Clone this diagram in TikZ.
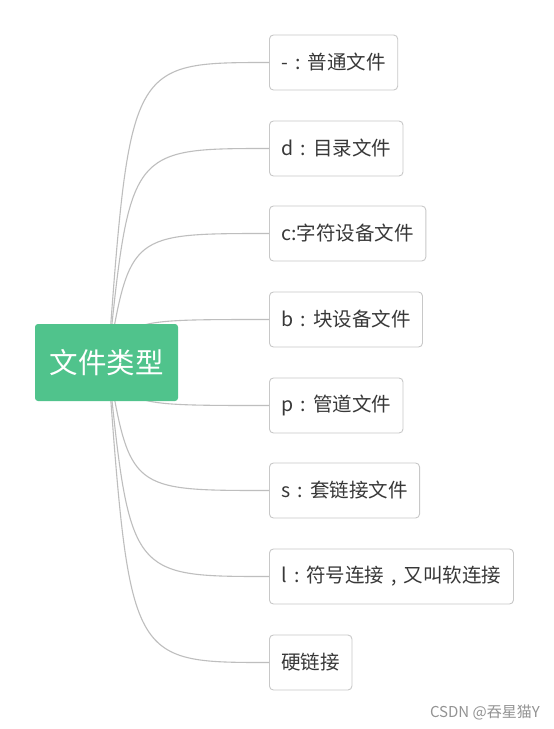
\documentclass[tikz,border=0pt]{standalone}
\usepackage{fontspec}
\setmainfont{Noto Sans CJK SC}
\usetikzlibrary{positioning}
\definecolor{rootgreen}{HTML}{50C38C}
\definecolor{leafline}{HTML}{C8C8C8}
\definecolor{branchgray}{HTML}{BEBEBE}
\definecolor{leaftext}{HTML}{383838}
\newcommand{\fcolon}{\makebox[1em]{:}}
\newcommand{\fcomma}{\makebox[1em]{,}}
\tikzstyle{every node}=[inner sep=0pt]
\tikzstyle{root}=[fill=rootgreen,rounded corners=3pt,text=white,font=\fontsize{28.5}{31}\selectfont,minimum width=143pt,minimum height=77pt]
\tikzstyle{leaf}=[draw=leafline,line width=0.9pt,fill=white,rounded corners=4pt,anchor=west,text=leaftext,font=\fontsize{19.5}{22}\selectfont,minimum height=55pt,inner xsep=12pt]
\tikzstyle{branch}=[branchgray,line width=1.1pt]

\begin{document}
\begin{tikzpicture}[x=1pt,y=-1pt]
\useasboundingbox[fill=white] (0,0) rectangle (554,729);

% leaves
\node[leaf] (l1) at (269,62.5) {-\fcolon 普通文件};
\node[leaf] (l2) at (269,148.5) {d\fcolon 目录文件};
\node[leaf] (l3) at (269,233.5) {c:字符设备文件};
\node[leaf] (l4) at (269,319.5) {b\fcolon 块设备文件};
\node[leaf] (l5) at (269,405.5) {p\fcolon 管道文件};
\node[leaf] (l6) at (269,490.5) {s\fcolon 套链接文件};
\node[leaf] (l7) at (269,576.5) {l\fcolon 符号连接\fcomma 又叫软连接};
\node[leaf] (l8) at (269,662.5) {硬链接};

% branches
\coordinate (hub) at (108,362);
\draw[branch] (hub) .. controls ([xshift=22pt]hub |- l1.west) .. (l1.west);
\draw[branch] (hub) .. controls ([xshift=22pt]hub |- l2.west) .. (l2.west);
\draw[branch] (hub) .. controls ([xshift=22pt]hub |- l3.west) .. (l3.west);
\draw[branch] (hub) .. controls ([xshift=22pt]hub |- l4.west) .. (l4.west);
\draw[branch] (hub) .. controls ([xshift=22pt]hub |- l5.west) .. (l5.west);
\draw[branch] (hub) .. controls ([xshift=22pt]hub |- l6.west) .. (l6.west);
\draw[branch] (hub) .. controls ([xshift=22pt]hub |- l7.west) .. (l7.west);
\draw[branch] (hub) .. controls ([xshift=22pt]hub |- l8.west) .. (l8.west);

% root
\node[root] (root) at (106.5,362.5) {文件类型};

% watermark
\node[text=gray!85,font=\fontsize{15}{17}\selectfont,anchor=east] (mark) at (540,712) {CSDN @吞星猫Y};

\end{tikzpicture}
\end{document}
